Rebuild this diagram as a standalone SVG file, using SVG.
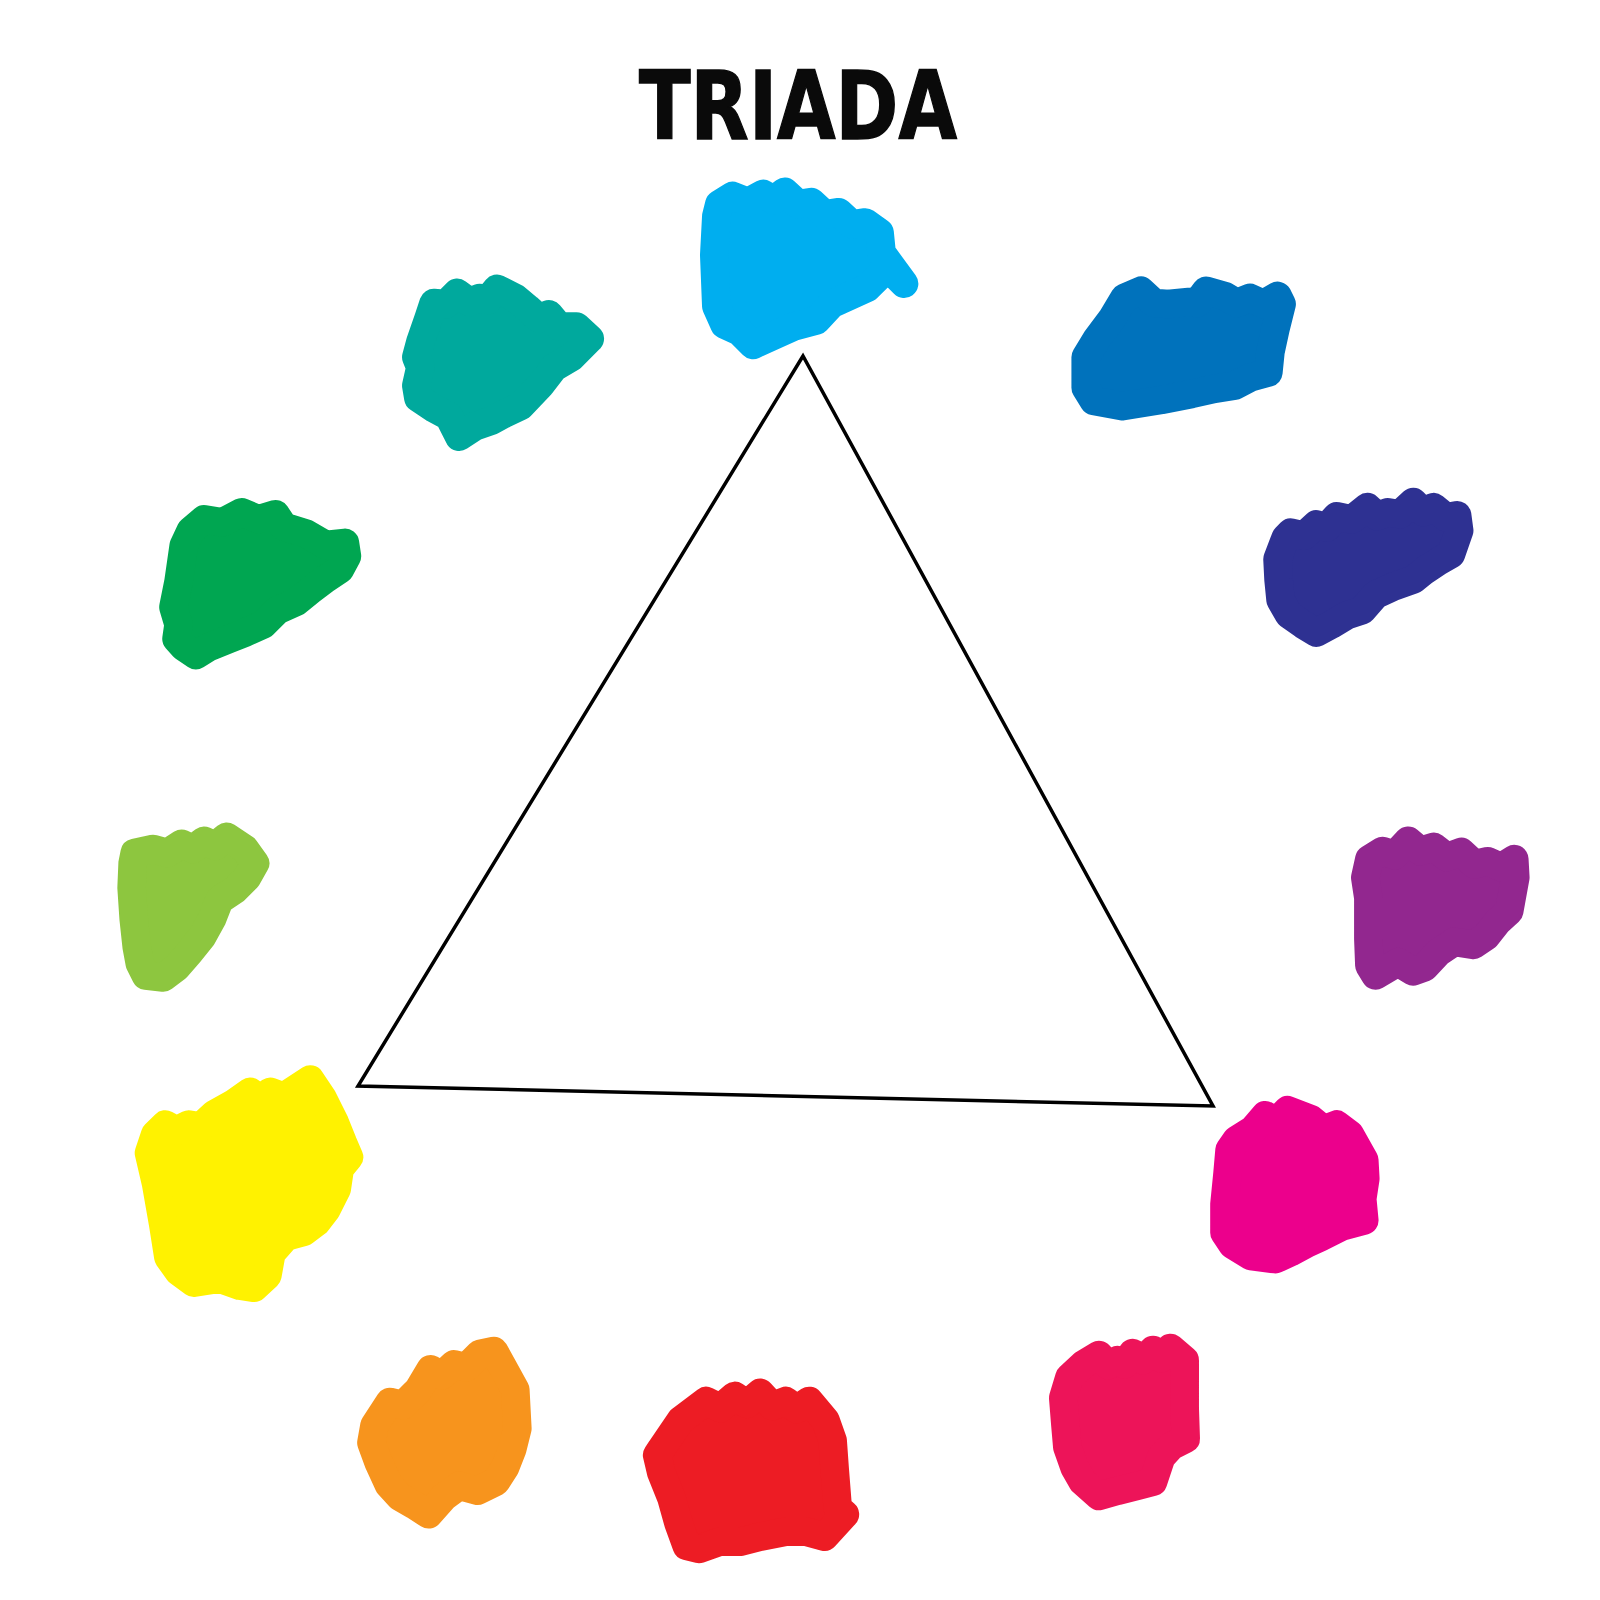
<svg xmlns="http://www.w3.org/2000/svg" width="1600" height="1600" viewBox="0 0 1600 1600">
<style>
.blob{stroke-width:28;stroke-linejoin:round;stroke-linecap:round}
.c1{fill:#00AEEF;stroke:#00AEEF}
.c2{fill:#00A99D;stroke:#00A99D}
.c3{fill:#0072BC;stroke:#0072BC}
.c4{fill:#00A651;stroke:#00A651}
.c5{fill:#2E3192;stroke:#2E3192}
.c6{fill:#8DC63F;stroke:#8DC63F}
.c7{fill:#92278F;stroke:#92278F}
.c8{fill:#FFF200;stroke:#FFF200}
.c9{fill:#EC008C;stroke:#EC008C}
.c10{fill:#F7941D;stroke:#F7941D}
.c11{fill:#ED1C24;stroke:#ED1C24}
.c12{fill:#ED1459;stroke:#ED1459}
.title{font-family:"DejaVu Sans","Liberation Sans",sans-serif;font-weight:bold;font-size:94px;fill:#0a0a0a;stroke:#0a0a0a;stroke-width:1.5}
</style>
<rect width="1600" height="1600" fill="#ffffff"/>
<g id="title"><text class="title" x="798" y="139" text-anchor="middle" textLength="318" lengthAdjust="spacingAndGlyphs">TRIADA</text></g>
<g id="triangle"><polygon points="803,356 358,1086 1213,1106" fill="none" stroke="#000" stroke-width="3.5" stroke-linejoin="miter"/></g>
<g transform="scale(1.0204)">
<g id="cyan"><path class="blob c1" d="M705,200 L718,192 L733,198 L748,190 L758,196 L769,188 L782,200 L795,198 L808,210 L822,208 L835,220 L848,218 L862,228 L864,248 L886,278 L870,262 L850,282 L815,298 L800,314 L778,320 L760,328 L738,338 L725,325 L710,318 L702,300 L700,250 L702,212 Z"/></g>
<g id="teal"><path class="blob c2" d="M425,297 L437,298 L448,287 L460,296 L470,292 L478,294 L487,283 L505,292 L517,302 L528,312 L538,308 L548,320 L565,320 L578,332 L560,350 L543,360 L530,377 L510,398 L495,405 L482,412 L465,418 L450,428 L445,418 L440,408 L425,400 L410,390 L408,378 L412,360 L408,350 L412,335 L420,312 Z"/></g>
<g id="blue"><path class="blob c3" d="M1075,332 L1090,312 L1102,292 L1118,285 L1131,297 L1145,298 L1165,296 L1173,297 L1182,285 L1200,290 L1212,297 L1225,292 L1238,298 L1252,290 L1256,298 L1250,322 L1245,345 L1243,365 L1225,370 L1210,378 L1190,381 L1168,386 L1138,392 L1100,398 L1072,393 L1064,380 L1064,350 Z"/></g>
<g id="green"><path class="blob c4" d="M187,520 L200,509 L218,512 L237,502 L253,509 L270,504 L278,516 L300,523 L319,534 L338,532 L340,545 L333,558 L318,568 L305,578 L290,590 L272,598 L258,612 L240,620 L225,626 L205,634 L192,642 L180,634 L173,626 L175,612 L170,595 L175,570 L180,535 Z"/></g>
<g id="indigo"><path class="blob c5" d="M1265,522 L1278,525 L1290,514 L1300,517 L1310,506 L1325,509 L1340,497 L1350,506 L1360,502 L1372,504 L1385,492 L1395,502 L1405,497 L1417,507 L1428,505 L1430,520 L1422,543 L1410,550 L1395,560 L1385,568 L1365,575 L1348,583 L1335,598 L1320,603 L1305,612 L1290,620 L1277,612 L1263,602 L1255,588 L1253,568 L1252,548 L1260,527 Z"/></g>
<g id="ygreen"><path class="blob c6" d="M132,836 L150,832 L164,836 L178,827 L189,832 L200,824 L211,829 L222,820 L240,832 L250,846 L242,860 L230,872 L215,882 L208,900 L198,918 L186,933 L173,948 L160,958 L143,956 L137,944 L134,928 L131,900 L129,870 L130,846 Z"/></g>
<g id="purple"><path class="blob c7" d="M1342,842 L1355,834 L1367,838 L1380,824 L1392,834 L1405,830 L1418,840 L1432,835 L1445,847 L1458,844 L1471,850 L1484,842 L1485,860 L1479,893 L1468,903 L1456,918 L1444,926 L1425,923 L1410,933 L1396,948 L1385,952 L1370,943 L1348,956 L1342,946 L1341,920 L1341,880 L1338,860 Z"/></g>
<g id="yellow"><path class="blob c8" d="M152,1112 L162,1102 L173,1108 L185,1102 L197,1104 L210,1092 L228,1082 L245,1070 L255,1077 L265,1070 L278,1075 L290,1067 L304,1058 L316,1076 L328,1100 L336,1120 L342,1134 L333,1145 L330,1165 L320,1185 L310,1198 L298,1207 L280,1212 L266,1228 L262,1250 L249,1262 L235,1260 L215,1253 L190,1257 L175,1246 L165,1232 L160,1200 L153,1160 L146,1130 Z"/></g>
<g id="magenta"><path class="blob c9" d="M1212,1117 L1228,1107 L1240,1093 L1250,1100 L1262,1088 L1285,1097 L1297,1107 L1310,1102 L1323,1112 L1337,1137 L1338,1155 L1335,1175 L1337,1196 L1315,1202 L1295,1212 L1280,1219 L1265,1227 L1250,1234 L1226,1231 L1208,1220 L1200,1208 L1200,1180 L1203,1150 L1205,1127 Z"/></g>
<g id="orange"><path class="blob c10" d="M367,1397 L382,1374 L395,1377 L410,1362 L422,1342 L433,1348 L445,1337 L457,1340 L470,1327 L484,1324 L494,1342 L505,1362 L507,1400 L502,1420 L495,1438 L486,1452 L468,1461 L450,1456 L435,1467 L420,1484 L406,1475 L392,1467 L381,1455 L371,1433 L364,1414 Z"/></g>
<g id="red"><path class="blob c11" d="M648,1420 L667,1392 L692,1373 L706,1380 L720,1368 L732,1376 L745,1365 L757,1378 L770,1373 L781,1381 L793,1373 L809,1392 L816,1412 L818,1440 L821,1478 L828,1484 L808,1506 L790,1501 L770,1501 L745,1506 L725,1511 L705,1511 L685,1518 L673,1515 L665,1493 L658,1468 L648,1443 L644,1426 Z"/></g>
<g id="rose"><path class="blob c12" d="M1048,1350 L1062,1337 L1077,1328 L1086,1338 L1095,1333 L1102,1337 L1110,1326 L1120,1333 L1130,1323 L1138,1331 L1147,1321 L1161,1333 L1161,1380 L1162,1410 L1148,1417 L1138,1428 L1130,1452 L1115,1456 L1095,1461 L1077,1466 L1061,1452 L1053,1438 L1046,1418 L1044,1395 L1042,1370 Z"/></g>
</g>
</svg>
